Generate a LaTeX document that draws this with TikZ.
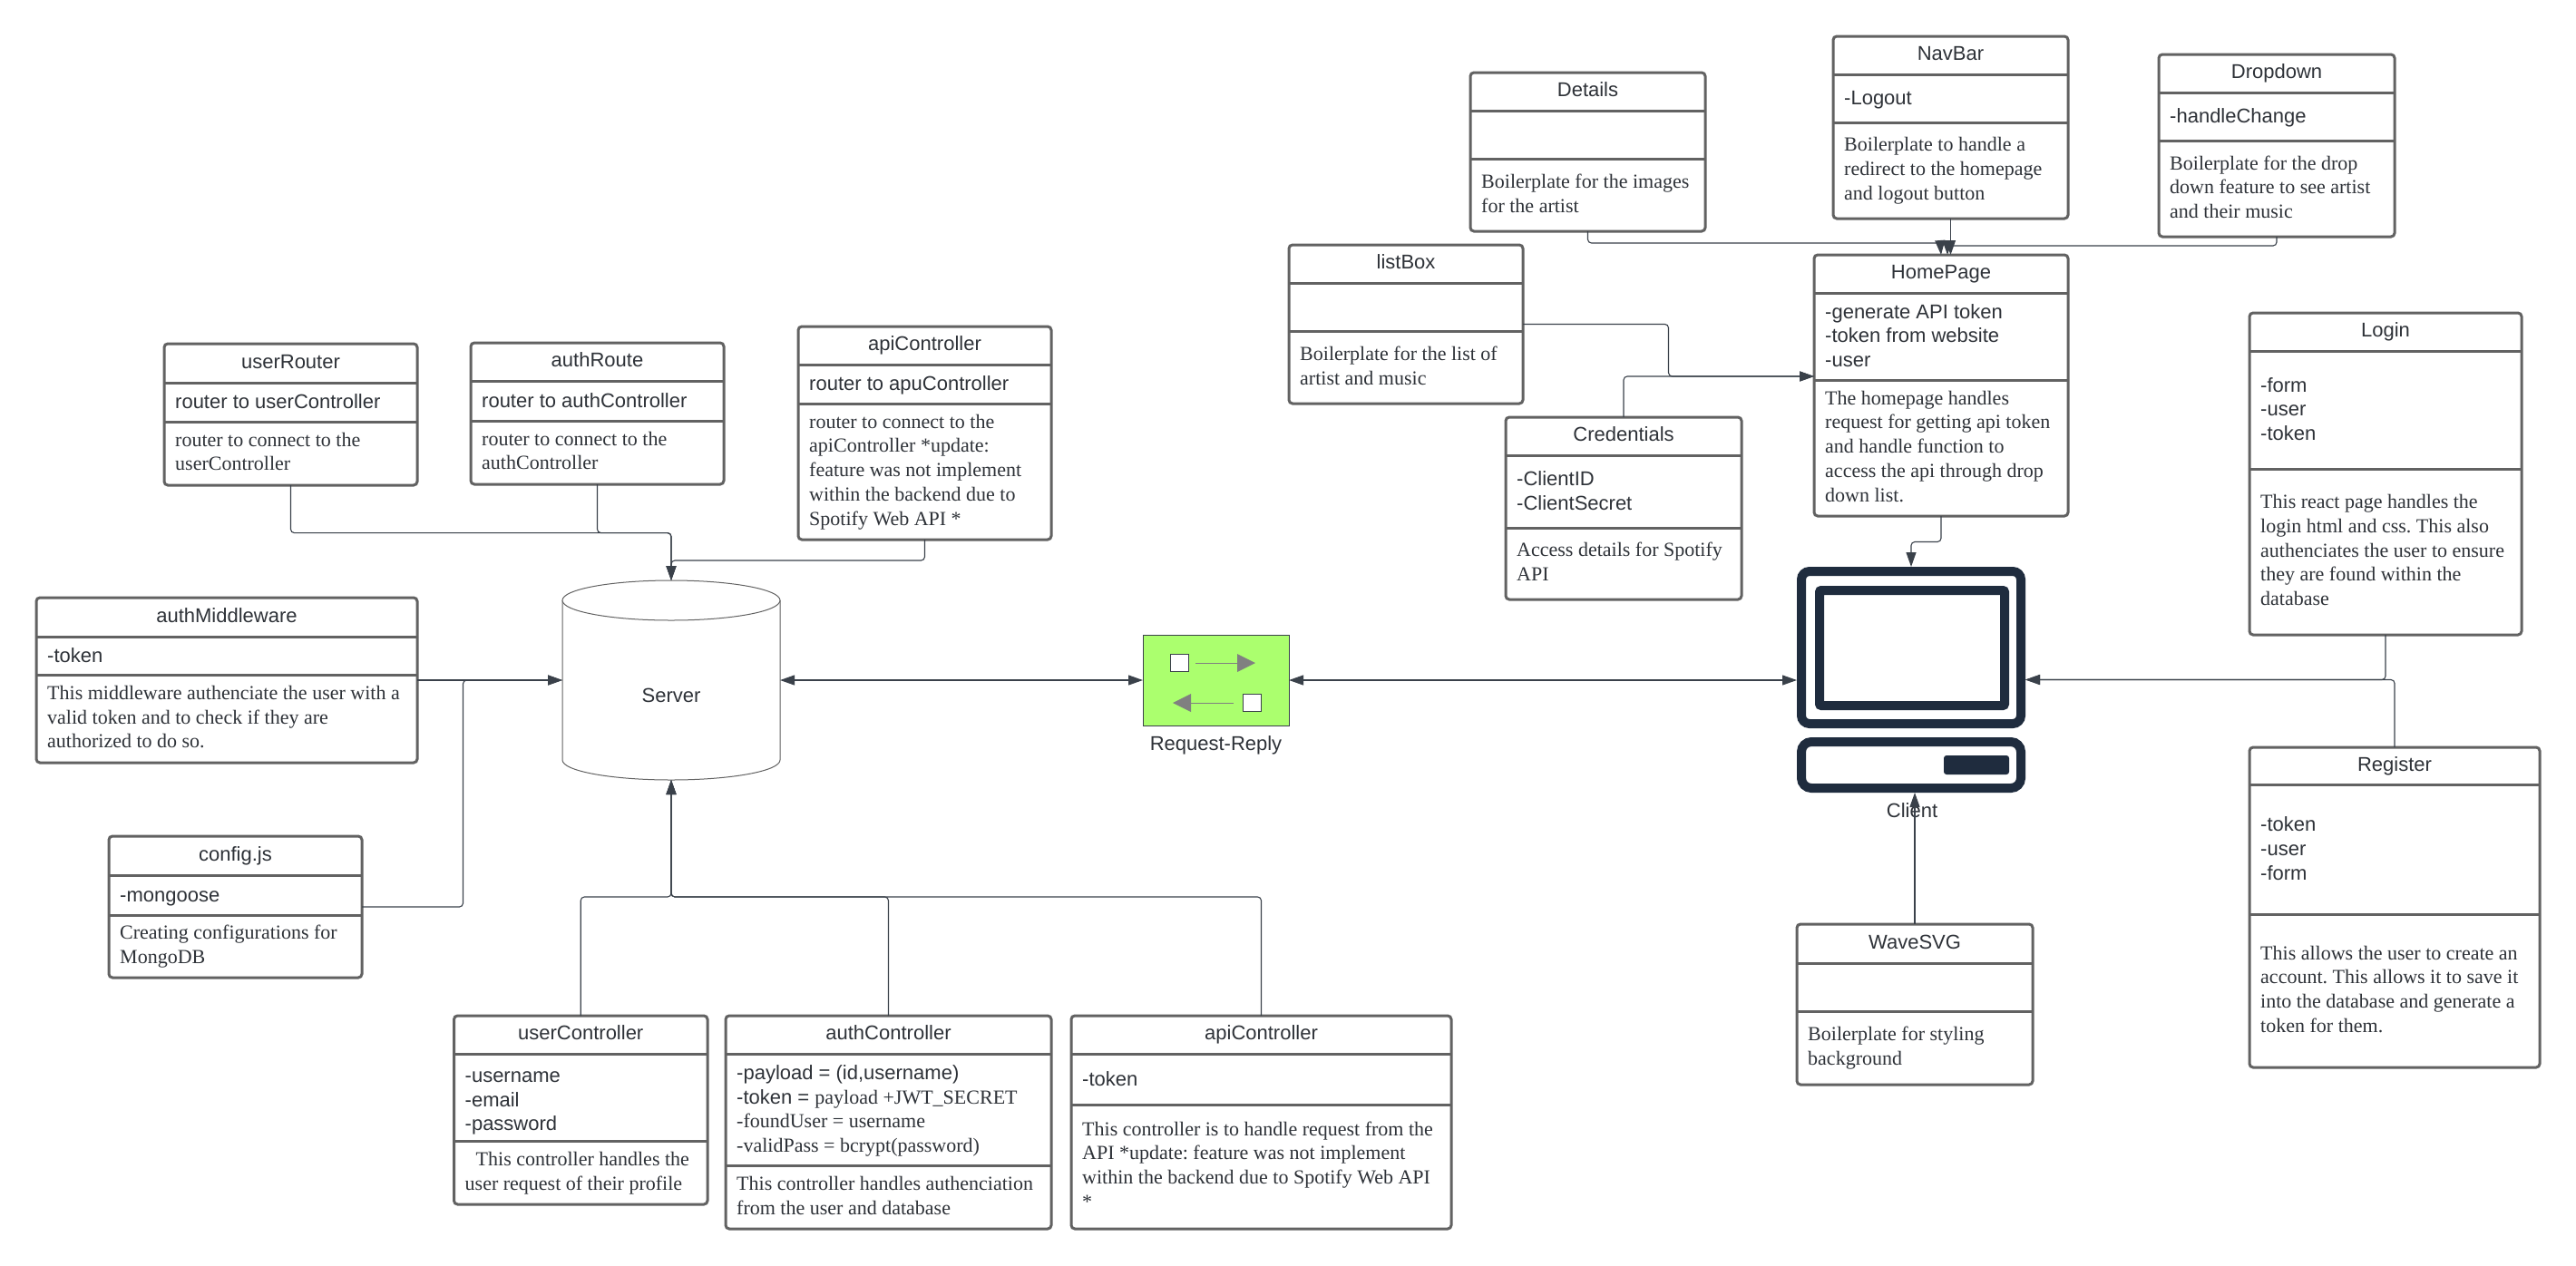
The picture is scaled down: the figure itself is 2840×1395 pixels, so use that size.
\documentclass[tikz,border=0pt]{standalone}
\usepackage{fontspec}
\setmainfont{Liberation Serif}
\setsansfont{Liberation Sans}
\usetikzlibrary{arrows.meta,calc}
\definecolor{bordc}{HTML}{626262}
\definecolor{linkc}{HTML}{3A414A}
\definecolor{txtc}{HTML}{2E3238}
\definecolor{navyc}{HTML}{1F2C3E}
\definecolor{greenc}{HTML}{ABFF6E}
\definecolor{greyc}{HTML}{808080}
\newcommand\linestrut{\rule[-5pt]{0pt}{21pt}}
\tikzset{
  umlbox/.style={draw=bordc,line width=3pt,rounded corners=4pt,fill=white,inner sep=0pt,outer sep=0pt},
  umlrule/.style={draw=bordc,line width=3pt},
  umltitle/.style={inner sep=0pt,text=txtc,font=\sffamily\frenchspacing\fontsize{22}{26.7}\selectfont,text height=16pt,text depth=5pt},
  umlattr/.style={inner sep=0pt,text=txtc,anchor=west,align=left,font=\sffamily\frenchspacing\fontsize{22}{26.7}\selectfont,execute at begin node=\linestrut,execute at end node=\linestrut},
  umlbody/.style={inner sep=0pt,text=txtc,anchor=west,align=left,font=\rmfamily\frenchspacing\fontsize{22}{26.7}\selectfont,execute at begin node=\linestrut,execute at end node=\linestrut},
  plainlabel/.style={inner sep=0pt,text=txtc,font=\sffamily\fontsize{22}{26.7}\selectfont},
  anchorbox/.style={inner sep=0pt,outer sep=0pt},
  link/.style={draw=linkc,line width=1.1pt,rounded corners=4pt},
  tri/.tip={Triangle[length=16pt,width=11pt]},
  monline/.style={draw=navyc,line width=10pt}
}
% name x1 y1 x2 y2 rule1 rule2 title attr ; then {body}
\newcommand\classbox[9]{%
  \node[umlbox,minimum width={(#4-#2)*1pt},minimum height={(#5-#3)*1pt}] (#1) at ({(#2+#4)/2},{(#3+#5)/2}) {};
  \draw[umlrule] (#2,#6) -- (#4,#6);
  \draw[umlrule] (#2,#7) -- (#4,#7);
  \node[umltitle] (#1-t) at ({(#2+#4)/2},{(#3+#6)/2}) {#8};
  \node[umlattr] (#1-a) at ({#2+12},{(#6+#7)/2+1.5}) {#9};
  \def\cbx{#2}\def\cby{#7}\def\cbb{#5}\def\cbn{#1}%
  \classboxtail}
\newcommand\classboxtail[1]{%
  \node[umlbody] (\cbn-b) at ({\cbx+12},{(\cby+\cbb)/2+0.5}) {#1};}
\begin{document}
\begin{tikzpicture}[x=1pt,y=-1pt]
\useasboundingbox[fill=white] (0,0) rectangle (2840,1395);

% coordinates for connector bends
\coordinate (jS) at (740,587.6);
\coordinate (jA) at (740,618);
\coordinate (jB) at (740,989);
\coordinate (jC) at (510.5,750);
\coordinate (jM) at (1839.5,415);
\coordinate (jH) at (2107,597.5);
\coordinate (jD) at (2139,268);
\coordinate (jR) at (2147,271);

% anchors for graphic shapes
\node[anchorbox,minimum width=240pt,minimum height=220pt] (server) at (740,750) {};
\node[anchorbox,minimum width=252pt,minimum height=249pt] (monitor) at (2107,749.5) {};

% Server cylinder
\draw[bordc,line width=1pt,fill=white] (620,662) -- (620,838) arc[start angle=180,end angle=0,x radius=120,y radius=22] -- (860,662);
\draw[bordc,line width=1pt,fill=white] (740,662) ellipse[x radius=120,y radius=22];
\node[plainlabel] (serverlabel) at (740,767) {Server};

% Monitor
\draw[monline,rounded corners=9pt] (1986,630) rectangle (2228,798);
\draw[monline,rounded corners=2pt] (2006,651) rectangle (2210,778);
\draw[monline,rounded corners=11pt] (1986,818) rectangle (2228,869);
\fill[navyc,rounded corners=3pt] (2143,833) rectangle (2215,854);
\node[plainlabel] (clientlabel) at (2108,894) {Client};

% Request-Reply
\node[draw=linkc,line width=0.8pt,fill=greenc,minimum width=161pt,minimum height=100pt,inner sep=0pt,outer sep=0pt] (rr) at (1340.5,750) {};
\draw[linkc,line width=1pt,fill=white] (1290,721) rectangle (1310,740);
\draw[linkc,line width=1pt,fill=white] (1370,765) rectangle (1390,784);
\draw[greyc,line width=1pt] (1318,731) -- (1364,731);
\fill[greyc] (1364,721) -- (1384,731) -- (1364,741) -- cycle;
\draw[greyc,line width=1pt] (1360,775) -- (1313,775);
\fill[greyc] (1313,765) -- (1293,775) -- (1313,785) -- cycle;
\node[plainlabel] (rrlabel) at (1340.5,822) {Request-Reply};

% Classes
\classbox{details}{1621}{80}{1880}{255}{122}{175}{Details}{}
  {Boilerplate for the images\\for the artist}
\classbox{navbar}{2021}{40}{2280}{241}{82}{135}{NavBar}{-Logout}
  {Boilerplate to handle a\\redirect to the homepage\\and logout button}
\classbox{dropdown}{2380}{60}{2640}{261}{102}{155}{Dropdown}{-handleChange}
  {Boilerplate for the drop\\down feature to see artist\\and their music}
\classbox{listbox}{1421}{270}{1679}{445}{312}{365}{listBox}{}
  {Boilerplate for the list of\\artist and music}
\classbox{home}{2000}{281}{2280}{569}{323}{419}{HomePage}{-generate API token\\-token from website\\-user}
  {The homepage handles\\request for getting api token\\and handle function to\\access the api through drop\\down list.}
\classbox{cred}{1660}{460}{1920}{661}{502}{582}{Credentials}{-ClientID\\-ClientSecret}
  {Access details for Spotify\\API}
\classbox{login}{2480}{345}{2780}{700}{387}{517}{Login}{-form\\-user\\-token}
  {This react page handles the\\login html and css. This also\\authenciates the user to ensure\\they are found within the\\database}
\classbox{register}{2480}{824}{2800}{1177}{865}{1008}{Register}{-token\\-user\\-form}
  {This allows the user to create an\\account. This allows it to save it\\into the database and generate a\\token for them.}
\classbox{wave}{1981}{1019}{2241}{1196}{1062}{1115}{WaveSVG}{}
  {Boilerplate for styling\\background}
\classbox{userrouter}{181}{379}{460}{535}{422}{465}{userRouter}{router to userController}
  {router to connect to the\\userController}
\classbox{authroute}{519}{378}{798}{534}{420}{464}{authRoute}{router to authController}
  {router to connect to the\\authController}
\classbox{apitop}{880}{360}{1159}{595}{402}{445}{apiController}{router to apuController}
  {router to connect to the\\apiController *update:\\feature was not implement\\within the backend due to\\Spotify Web API *}
\classbox{authmw}{40}{659}{460}{841}{702}{744}{authMiddleware}{-token}
  {This middleware authenciate the user with a\\valid token and to check if they are\\authorized to do so.}
\classbox{config}{120}{922}{399}{1078}{965}{1009}{config.js}{-mongoose}
  {Creating configurations for\\MongoDB}
\classbox{userctl}{500.5}{1120}{780}{1328}{1162}{1258}{userController}{\rule{0pt}{22pt}-username\\-email\\-password}
  {\hspace*{12pt}This controller handles the\\user request of their profile}
\classbox{authctl}{800}{1120}{1159}{1355}{1162}{1285}{authController}{-payload = (id,username)\\-token = {\rmfamily payload +JWT\_SECRET}\\{\rmfamily -foundUser = username}\\{\rmfamily -validPass = bcrypt(password)}}
  {This controller handles authenciation\\from the user and database}
\classbox{apictl}{1181}{1120}{1600}{1355}{1162}{1218}{apiController}{-token}
  {This controller is to handle request from the\\API *update: feature was not implement\\within the backend due to Spotify Web API\\*}

% Connectors
\draw[link,-{tri}] (userrouter.south) |- (jS) -- (server.north);
\draw[link,-{tri}] (authroute.south) |- (jS) -- (server.north);
\draw[link,-{tri}] (apitop.south) |- (jA) -- (server.north);
\draw[link,-{tri}] (authmw.east) -- (server.west);
\draw[link,-{tri}] (config.east) -| (jC) -- (server.west);
\draw[link,-{tri}] (userctl.north) |- (jB) -- (server.south);
\draw[link,-{tri}] (authctl.north) |- (jB) -- (server.south);
\draw[link,-{tri}] (apictl.north) |- (jB) -- (server.south);
\draw[link,{tri}-{tri}] (server.east) -- (rr.west);
\draw[link,{tri}-{tri}] (rr.east) -- (monitor.west |- rr.east);
\draw[link,-{tri}] (home.south) |- (jH) -- (monitor.north);
\draw[link,-{tri}] (login.south) |- (monitor.east);
\draw[link,-{tri}] (register.north) |- (monitor.east);
\draw[link,-{tri}] (wave.north) -- (wave.north |- monitor.south);
\draw[link,-{tri}] (listbox.east) -| (jM) -- (home.west |- jM);
\draw[link,-{tri}] (cred.north) |- (home.west |- jM);
\draw[link] (details.south) |- (jD);
\draw[link] (dropdown.south) |- (jR);
\draw[link,-{tri}] (jD) -- (home.north);
\draw[link,-{tri}] (navbar.south) -- (navbar.south |- home.north);
\draw[link,-{tri}] (jR) -- (home.north -| jR);
\end{tikzpicture}
\end{document}
